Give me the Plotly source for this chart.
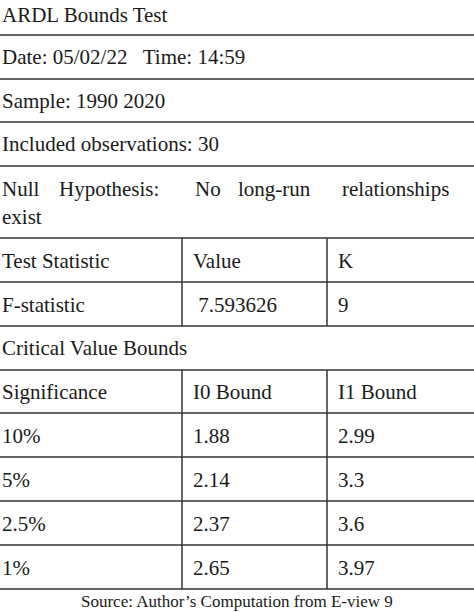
import plotly.graph_objects as go

header_rows = ["ARDL Bounds Test", "Date: 05/02/22   Time: 14:59", "Sample: 1990 2020", "Included observations: 30"]
null_words = ["Null", "Hypothesis:", "No", "long-run", "relationships"]
null_word_x = [0, 57, 193, 236, 340]
test_header = ["Test Statistic", "Value", "K"]
test_row = ["F-statistic", " 7.593626", "9"]
crit_title = "Critical Value Bounds"
bound_header = ["Significance", "I0 Bound", "I1 Bound"]
significance = ["10%", "5%", "2.5%", "1%"]
i0_bound = ["1.88", "2.14", "2.37", "2.65"]
i1_bound = ["2.99", "3.3", "3.6", "3.97"]
source = "Source: Author’s Computation from E-view 9"

W, H = 474, 612
FONT = "Liberation Serif"
FS = 21
col_x = [0, 191, 336]
hlines = [35, 79, 122, 166, 238, 282, 326, 370, 413, 457, 501, 545, 589]
vsegs = [(238, 326), (370, 589)]
vx = [182, 327]

fig = go.Figure()
fig.add_trace(go.Scatter(x=[0, W], y=[0, H], mode="markers", marker=dict(opacity=0), hoverinfo="skip"))

ann = []
def t(x, y, s, size=FS, anchor="left"):
    ann.append(dict(x=x, y=y, text=s, showarrow=False, xanchor=anchor, yanchor="middle",
                    font=dict(family=FONT, size=size, color="#1a1a1a"), xref="x", yref="y"))

for y, s in zip([15, 57, 101, 144], header_rows):
    t(0, y, s)
for x, w in zip(null_word_x, null_words):
    t(x, 189, w)
t(0, 217, "exist")
for x, s in zip(col_x, test_header):
    t(x, 261, s)
for x, s in zip(col_x, test_row):
    t(x, 305, s)
t(0, 348, crit_title)
for x, s in zip(col_x, bound_header):
    t(x, 392, s)
for i, (a, b, c) in enumerate(zip(significance, i0_bound, i1_bound)):
    y = 436 + 44 * i
    for x, s in zip(col_x, (a, b, c)):
        t(x, y, s)
t(237, 601, source, size=17, anchor="center")

shapes = []
for y in hlines:
    shapes.append(dict(type="line", x0=0, x1=W, y0=y, y1=y, line=dict(color="#333", width=1.5), xref="x", yref="y"))
for y0, y1 in vsegs:
    for x in vx:
        shapes.append(dict(type="line", x0=x, x1=x, y0=y0, y1=y1, line=dict(color="#333", width=1.5), xref="x", yref="y"))

fig.update_layout(width=W, height=H, margin=dict(l=0, r=0, t=0, b=0),
                  paper_bgcolor="white", plot_bgcolor="white", showlegend=False,
                  xaxis=dict(range=[0, W], visible=False, fixedrange=True),
                  yaxis=dict(range=[H, 0], visible=False, fixedrange=True),
                  annotations=ann, shapes=shapes)
fig.write_html("out.html", config={"displayModeBar": False})

with open("out.html", encoding="utf-8") as f:
    html = f.read()
html = html.replace("<body>", '<body style="margin:0;padding:0;overflow:hidden">', 1)
with open("out.html", "w", encoding="utf-8") as f:
    f.write(html)
